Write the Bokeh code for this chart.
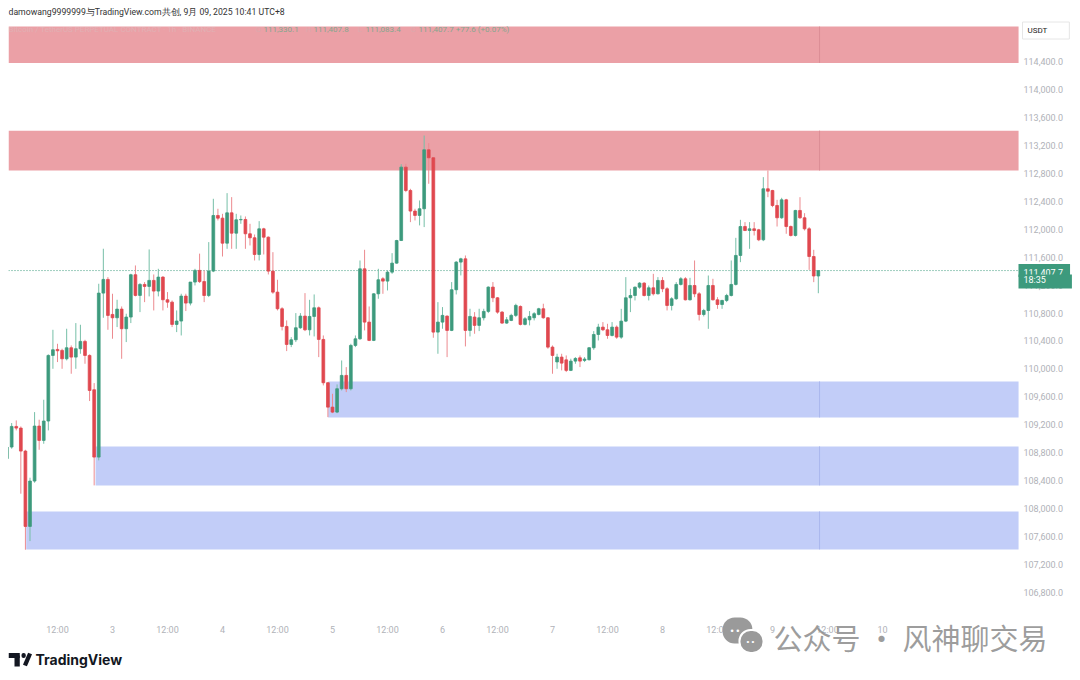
from bokeh.plotting import figure
from bokeh.models import ColumnDataSource, FixedTicker, NumeralTickFormatter, Label, Range1d
from bokeh.embed import file_html
from bokeh.resources import INLINE

# ---- data: 1h candles, hour offset from 2025-09-02 00:00 (UTC+8) ----
hours = list(range(1, 179))

opens = [
    108715, 108882, 109177, 109153, 108824, 107746, 108395, 109182, 108977, 109254,
    110193, 110279, 110265, 110145, 110303, 110169, 110289, 110394, 110193, 109702,
    108738, 111085, 111281, 110780, 110732, 110856, 110575, 110742, 111348, 111052,
    111209, 111181, 111267, 111114, 111314, 110990, 110956, 110637, 110685, 111042,
    110942, 111243, 111410, 111250, 111051, 111400, 112196, 112158, 111800, 112234,
    111943, 112134, 112139, 111934, 111877, 111638, 112005, 111886, 111400, 111099,
    110861, 110608, 110350, 110417, 110589, 110756, 110560, 110751, 110875, 110422,
    109802, 109453, 109382, 109716, 109907, 109716, 110336, 110431, 111433, 110670,
    110408, 111075, 111290, 111257, 111385, 111514, 111838, 112888, 112554, 112259,
    112197, 112292, 113136, 113022, 110527, 110670, 110756, 110551, 111133, 111529,
    111576, 110551, 110742, 110623, 110732, 110823, 111171, 111018, 110813, 110656,
    110694, 110766, 110894, 110637, 110703, 110732, 110780, 110861, 110732, 110312,
    110100, 110169, 110130, 109979, 110112, 110159, 110122, 110131, 110303, 110493,
    110598, 110560, 110479, 110598, 110455, 110684, 111018, 111051, 111170, 111228,
    111051, 111161, 111075, 111266, 111147, 110908, 111004, 111209, 111290, 110989,
    111194, 111075, 110779, 110836, 111194, 110989, 110922, 110980, 111051, 111209,
    111624, 112038, 111981, 112005, 111991, 111848, 112578, 112554, 112339, 112163,
    112420, 112038, 111910, 112268, 112163, 112005, 111609, 111330.1,
]
highs = [
    108905, 109225, 109263, 109177, 108843, 108443, 109382, 109273, 109559, 110208,
    110560, 110360, 110289, 110575, 110336, 110656, 110632, 110417, 110208, 109797,
    111219, 111720, 111314, 111076, 110990, 110894, 110790, 111362, 111481, 111228,
    111243, 111710, 111352, 111433, 111328, 111100, 110980, 110837, 111076, 111076,
    111243, 111433, 111650, 111409, 111815, 112435, 112292, 112220, 112516, 112459,
    112220, 112196, 112182, 112077, 111924, 112115, 112020, 111896, 111671, 111276,
    110884, 110694, 110455, 110799, 110799, 111085, 110989, 111066, 110894, 110479,
    109811, 109644, 109778, 110121, 110026, 110360, 110479, 111552, 111705, 110894,
    111085, 111433, 111314, 111409, 111657, 111848, 112930, 112936, 112578, 112292,
    112411, 113341, 113232, 113031, 110956, 110885, 110766, 111243, 111543, 111591,
    111624, 110861, 110813, 110861, 110861, 111181, 111243, 111028, 110828, 110742,
    110790, 110933, 110909, 110742, 110828, 110813, 110875, 110933, 110742, 110336,
    110217, 110217, 110193, 110146, 110169, 110193, 110169, 110312, 110541, 110646,
    110670, 110646, 110670, 110622, 110860, 111314, 111147, 111180, 111242, 111242,
    111194, 111361, 111314, 111314, 111170, 111027, 111242, 111314, 111314, 111304,
    111552, 111099, 110860, 111337, 111290, 111027, 110989, 111075, 111552, 111876,
    112134, 112101, 112101, 112101, 112005, 112745, 112840, 112563, 112420, 112449,
    112434, 112053, 112277, 112458, 112229, 112029, 111705, 111407.8,
]
lows = [
    108333, 108858, 109120, 108214, 107412, 107536, 108371, 108843, 108929, 109120,
    110002, 110098, 110002, 110122, 109931, 110002, 110217, 110074, 109540, 108333,
    108691, 110732, 110560, 110432, 110599, 110145, 110384, 110656, 111038, 110813,
    110956, 111038, 110837, 111038, 110837, 110875, 110599, 110527, 110479, 110828,
    110909, 111195, 111230, 110956, 111028, 111385, 112125, 111609, 111719, 111719,
    111719, 112077, 111719, 111767, 111552, 111552, 111638, 111352, 111075, 110837,
    110551, 110255, 110312, 110384, 110574, 110541, 110479, 110465, 110169, 109764,
    109310, 109367, 109367, 109692, 109668, 109692, 110312, 110417, 110551, 110398,
    110398, 111004, 111075, 111123, 111361, 111505, 111830, 112530, 112101, 112125,
    112054, 112030, 112650, 110446, 110217, 110575, 110169, 110541, 111066, 111338,
    110322, 110465, 110503, 110541, 110694, 110799, 110956, 110790, 110646, 110646,
    110684, 110742, 110623, 110623, 110623, 110694, 110766, 110718, 110289, 109931,
    110002, 109979, 109955, 109969, 110074, 110026, 110098, 110122, 110274, 110407,
    110541, 110431, 110465, 110431, 110431, 110670, 110813, 110980, 111147, 111037,
    110980, 111051, 111066, 111099, 110837, 110837, 110989, 111194, 110980, 110980,
    111027, 110693, 110751, 110574, 110980, 110860, 110860, 110956, 111037, 111194,
    111528, 111972, 111719, 111910, 111829, 111829, 112458, 112315, 112038, 112148,
    111934, 111895, 111895, 112148, 111981, 111418, 111242, 111083.4,
]
closes = [
    108882, 109177, 109153, 108824, 107746, 108395, 109182, 108977, 109254, 110193,
    110274, 110260, 110145, 110303, 110169, 110289, 110394, 110193, 109692, 108738,
    111085, 111281, 110766, 110732, 110856, 110575, 110742, 111348, 111052, 111209,
    111181, 111267, 111114, 111314, 110990, 110956, 110637, 110685, 111042, 110942,
    111243, 111410, 111250, 111051, 111400, 112196, 112158, 111800, 112234, 111943,
    112134, 112139, 111934, 111877, 111638, 112005, 111886, 111400, 111099, 110861,
    110608, 110350, 110417, 110589, 110756, 110560, 110751, 110875, 110422, 109802,
    109453, 109382, 109716, 109907, 109716, 110336, 110431, 111433, 110670, 110408,
    111075, 111276, 111257, 111385, 111514, 111838, 112888, 112554, 112259, 112197,
    112292, 113136, 113022, 110527, 110670, 110766, 110551, 111133, 111529, 111576,
    110551, 110751, 110623, 110732, 110823, 111171, 111018, 110813, 110656, 110703,
    110766, 110909, 110637, 110718, 110751, 110790, 110861, 110732, 110312, 110193,
    110169, 110083, 109979, 110112, 110150, 110112, 110141, 110303, 110493, 110598,
    110560, 110479, 110598, 110455, 110684, 111018, 111051, 111170, 111228, 111051,
    111161, 111075, 111266, 111147, 110908, 111004, 111209, 111290, 110989, 111194,
    111075, 110779, 110836, 111194, 110989, 110922, 110980, 111051, 111209, 111624,
    112038, 111981, 112005, 111981, 111848, 112578, 112544, 112339, 112163, 112420,
    112038, 111910, 112268, 112163, 112005, 111609, 111330, 111407.7,
]

# supply / demand zones (start hour, bottom, top)
zone_start = [1.31, 1.31, 71.06, 20.3, 5.17]
zone_end = 221.69            # right edge of the price pane
zone_bottom = [114380, 112840, 109305, 108333, 107417]
zone_top = [114900, 113410, 109821, 108891, 107960]
zone_kind = ["supply", "supply", "demand", "demand", "demand"]
zone_mark = 178.27           # current-bar divider inside zones

last_price = 111407.7
countdown = "18:35"
price_ticks = [106800, 107200, 107600, 108000, 108400, 108800, 109200, 109600,
               110000, 110400, 110800, 111200, 111600, 112000, 112400, 112800,
               113200, 113600, 114000, 114400]
time_ticks = [12, 24, 36, 48, 60, 72, 84, 96, 108, 120, 132, 144, 156, 168, 180, 192]
time_labels = ["12:00", "3", "12:00", "4", "12:00", "5", "12:00", "6", "12:00",
               "7", "12:00", "8", "12:00", "9", "12:00", "10"]

UP, DN = "#3d9a7d", "#e0484f"
UPW, DNW = "#76bfa8", "#ec8a8f"
SUP, DEM = "#eba0a6", "#c2cdf8"
FONT = "Roboto"

W, H = 1076, 676
p = figure(width=W, height=H,
           x_range=Range1d(1.309, 234.33), y_range=Range1d(105597.8, 115273.0),
           y_axis_location="right", output_backend="svg", toolbar_location=None,
           min_border_left=8, min_border_right=0, min_border_top=0, min_border_bottom=0)
p.grid.visible = False
p.outline_line_color = None
p.background_fill_color = "white"
p.border_fill_color = "white"

# zones
zcol = [SUP if k == "supply" else DEM for k in zone_kind]
p.quad(left=zone_start, right=[zone_end] * len(zone_start), bottom=zone_bottom, top=zone_top,
       fill_color=zcol, line_color=None)
zline = ["#dc8d95" if k == "supply" else "#aab7ee" for k in zone_kind]
p.segment(x0=[zone_mark] * 5, x1=[zone_mark] * 5, y0=zone_bottom, y1=zone_top,
          line_color=zline, line_width=1)

# current price line
p.segment(x0=[1.309], x1=[zone_end], y0=[last_price], y1=[last_price],
          line_color="#3d9a7d", line_dash="1 2", line_width=1)

# candles
inc = [c >= o for o, c in zip(opens, closes)]
src = ColumnDataSource(dict(
    x=hours, h=highs, l=lows,
    top=[max(o, c) for o, c in zip(opens, closes)],
    bottom=[min(o, c) for o, c in zip(opens, closes)],
    bc=[UP if i else DN for i in inc],
    wc=[UPW if i else DNW for i in inc],
))
p.segment(x0="x", y0="h", x1="x", y1="l", line_color="wc", line_width=1, source=src)
p.vbar(x="x", width=0.6, top="top", bottom="bottom", fill_color="bc",
       line_color="bc", line_width=0.8, source=src)

# axes (labels drawn back into the pane area)
ya = p.yaxis[0]
ya.ticker = FixedTicker(ticks=price_ticks)
ya.formatter = NumeralTickFormatter(format="0,0.0")
ya.axis_line_color = None
ya.major_tick_line_color = None
ya.minor_tick_line_color = None
ya.major_label_text_color = "#b0b2b8"
ya.major_label_text_font = FONT
ya.major_label_text_font_size = "9px"
ya.major_label_standoff = -59

xa = p.xaxis[0]
xa.ticker = FixedTicker(ticks=time_ticks)
xa.major_label_overrides = {t: s for t, s in zip(time_ticks, time_labels)}
xa.axis_line_color = None
xa.major_tick_line_color = None
xa.minor_tick_line_color = None
xa.major_label_text_color = "#b0b2b8"
xa.major_label_text_font = FONT
xa.major_label_text_font_size = "9px"
xa.major_label_standoff = -58


def lab(X, Y, text, **kw):
    """Label placed by page pixel position (frame origin is bottom-left)."""
    p.add_layout(Label(x=X - 8, y=H - Y, x_units="screen", y_units="screen", text=text, **kw))


# header
lab(8, 11, "damowang9999999与TradingView.com共创, 9月 09, 2025 10:41 UTC+8",
    text_font=FONT, text_font_size="8.7px", text_color="#333333", text_baseline="middle")

# OHLC legend (faded, inside top zone)
lab(8, 29, "Bitcoin / TetherUS PERPETUAL CONTRACT · 1h · BINANCE",
    text_font=FONT, text_font_size="8px", text_color="#e1b0b4", text_baseline="middle")
leg_x = [255, 305, 357, 410]
leg_k = ["O", "H", "L", "C"]
leg_v = [f"{opens[-1]:,.1f}", f"{highs[-1]:,.1f}", f"{lows[-1]:,.1f}",
         f"{closes[-1]:,.1f} +77.6 (+0.07%)"]
for lx, k, v in zip(leg_x, leg_k, leg_v):
    lab(lx, 29, k, text_font=FONT, text_font_size="8px", text_color="#dba9ad",
        text_baseline="middle")
    lab(lx + 8, 29, v, text_font=FONT, text_font_size="8px", text_color="#84a78f",
        text_baseline="middle")

# USDT box
lab(1022, 30, "USDT", text_font=FONT, text_font_size="8px", text_color="#222222",
    text_baseline="middle", background_fill_color="white", border_line_color="#e6e6e6",
    padding=dict(left=5, right=22, top=4, bottom=4))

# last price box
p.add_layout(Label(x=1018 - 8, y=last_price, x_units="screen", y_units="data",
                   text=f"{last_price:,.1f}", text_font=FONT, text_font_size="9px",
                   text_color="white", text_baseline="middle",
                   background_fill_color="#3d9a7d",
                   padding=dict(left=5, right=7, top=5, bottom=1)))
p.add_layout(Label(x=1018 - 8, y=last_price, y_offset=-11, x_units="screen", y_units="data",
                   text=countdown, text_font=FONT, text_font_size="9px",
                   text_color="white", text_baseline="middle",
                   background_fill_color="#3d9a7d",
                   padding=dict(left=5, right=26, top=0, bottom=4)))

# TradingView logo mark + name
LOGO = "#131722"
lab(8, 655, " ", text_font_size="1px", background_fill_color=LOGO,
    text_baseline="middle", padding=dict(left=0, right=11, top=2, bottom=2))
lab(14, 655, " ", text_font_size="1px", background_fill_color=LOGO,
    text_baseline="top", padding=dict(left=0, right=5, top=0, bottom=10))
lab(21, 655, " ", text_font_size="1px", background_fill_color=LOGO,
    text_baseline="middle", border_radius=2, padding=dict(left=0, right=4, top=2, bottom=2))
lab(27, 659, " ", text_font_size="1px", background_fill_color=LOGO, angle=-0.4,
    text_align="center", text_baseline="middle", padding=dict(left=2, right=2, top=6, bottom=6))
lab(35, 659, "TradingView", text_font="Inter", text_font_size="14px",
    text_font_style="bold", text_color=LOGO, text_baseline="middle")

# WeChat watermark
lab(737, 630, "•   •", text_font_size="9px", text_color="white", text_align="center",
    text_baseline="middle", background_fill_color="#9a9a9a",
    border_radius=12, padding=dict(left=8, right=8, top=8, bottom=8))
lab(751, 641, "•  •", text_font_size="8px", text_color="white", text_align="center",
    text_baseline="middle", background_fill_color="#9a9a9a",
    border_line_color="white", border_line_width=2,
    border_radius=11, padding=dict(left=7, right=7, top=7, bottom=7))
lab(773, 636, "公众号 · 风神聊交易", text_font="Noto Sans CJK SC",
    text_font_size="29px", text_color="#8c8c8c", text_alpha=0.85, text_baseline="middle")

open("out.html", "w").write(file_html(p, INLINE))
